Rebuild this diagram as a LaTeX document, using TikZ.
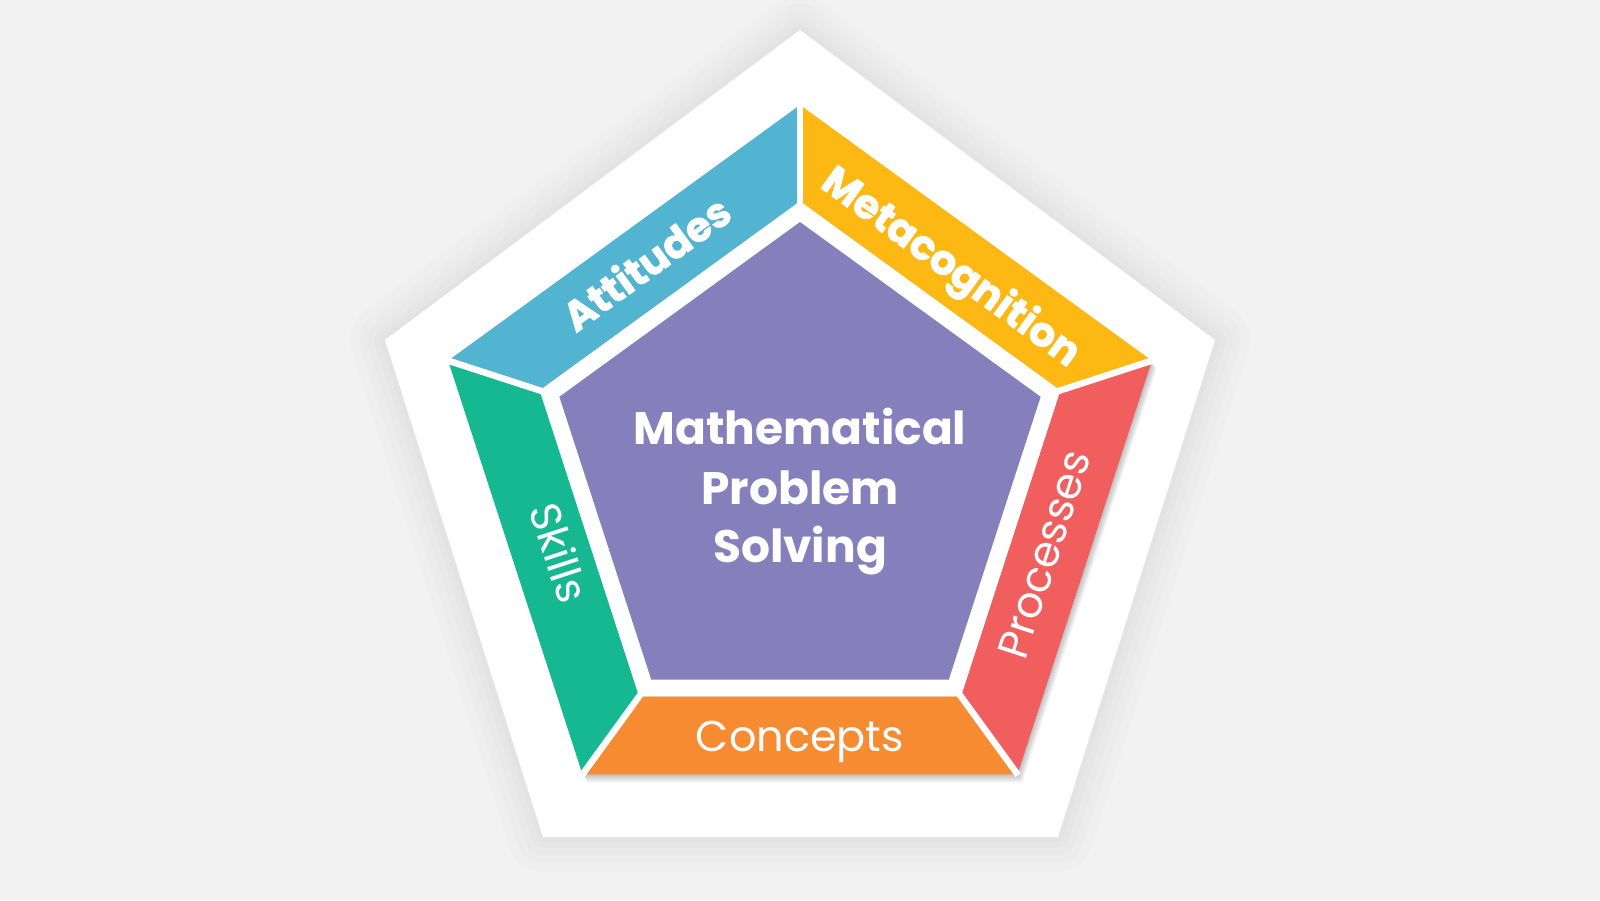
\documentclass[tikz,border=0pt]{standalone}
\usepackage{fontspec}
\setmainfont{Poppins}
\newfontfamily\heavyfont{Poppins}[BoldFeatures={FakeBold=1.6}]
\definecolor{bgc}{HTML}{F2F2F2}
\definecolor{cblue}{HTML}{52B4D0}
\definecolor{cyellow}{HTML}{FDB813}
\definecolor{cred}{HTML}{F05E5E}
\definecolor{corange}{HTML}{F68B32}
\definecolor{cgreen}{HTML}{15B891}
\definecolor{cpurple}{HTML}{857FBB}
\tikzset{
  bandtext/.style={text=white, anchor=mid, inner sep=0pt, font=\fontsize{43}{50}\selectfont},
  boldband/.style={text=white, anchor=mid, inner sep=0pt, font=\heavyfont\fontsize{41}{50}\selectfont\bfseries},
  titletext/.style={text=white, anchor=base, inner sep=0pt, font=\fontsize{45.5}{56}\selectfont\bfseries},
  divider/.style={white, line width=6.5, line cap=butt}
}
\begin{document}
\begin{tikzpicture}[x=1pt,y=1pt]
\useasboundingbox (0,0) rectangle (1600,900);
\fill[bgc] (0,0) rectangle (1600,900);
% outer white pentagon
\coordinate (W1) at (800,870);
\coordinate (W2) at (1215,560);
\coordinate (W3) at (1058,63);
\coordinate (W4) at (543,63);
\coordinate (W5) at (385,560);
\begin{scope}[shift={(0,-5)}]
\foreach \w in {70,52,36,22,10}
  \draw[black, opacity=0.011, line width=\w, line join=round] (W1)--(W2)--(W3)--(W4)--(W5)--cycle;
\end{scope}
\fill[white] (W1)--(W2)--(W3)--(W4)--(W5)--cycle;
\begin{scope}[shift={(800,425)}]
  % band shadow
  \foreach \k in {1,...,7}
    \fill[black, opacity=0.035, shift={({\k*0.7},{-\k*1.2})}]
      (90:370)--(18:370)--(-54:370)--(-126:370)--(162:370)--cycle;
  \fill[white] (90:274)--(18:274)--(-54:274)--(-126:274)--(162:274)--cycle;
  % bands
  \fill[cyellow] (90:370)--(18:370)--(18:274)--(90:274)--cycle;
  \fill[cred] (18:370)--(-54:370)--(-54:274)--(18:274)--cycle;
  \fill[corange] (-54:370)--(-126:370)--(-126:274)--(-54:274)--cycle;
  \fill[cgreen] (-126:370)--(162:370)--(162:274)--(-126:274)--cycle;
  \fill[cblue] (162:370)--(90:370)--(90:274)--(162:274)--cycle;
  \foreach \a in {90,18,-54,-126,162}
    \draw[divider] (\a:268)--(\a:371);
  % centre
  \fill[cpurple] (90:253)--(18:253)--(-54:253)--(-126:253)--(162:253)--cycle;
  % band labels
  \node[boldband, rotate=36] (att) at (126:249) {Attitudes};
  \node[boldband, rotate=-36] (meta) at (54:247) {Metacognition};
  \node[bandtext, rotate=72] (proc) at (-18:269) {Processes};
  \node[bandtext] (conc) at (-90:274) {Concepts};
  \node[bandtext, rotate=-72] (skil) at (198:266) {Skills};
  % title
  \node[titletext] (t1) at (0,30) {Mathematical};
  \node[titletext] (t2) at (0,-30) {Problem};
  \node[titletext] (t3) at (0,-88) {Solving};
\end{scope}
\end{tikzpicture}
\end{document}
